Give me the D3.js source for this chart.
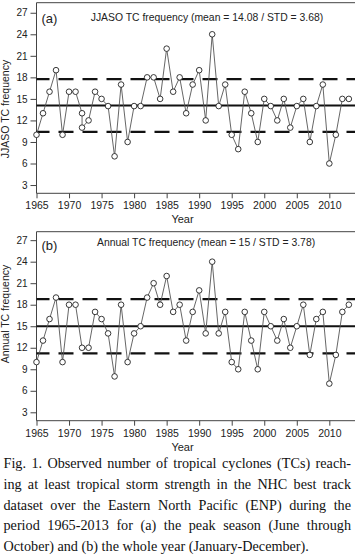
<!DOCTYPE html>
<html><head><meta charset="utf-8">
<script src="https://cdn.jsdelivr.net/npm/d3@7"></script>
<style>
html,body{margin:0;padding:0;background:#fff;}
svg{display:block;}
</style></head><body>
<svg id="chart" width="355" height="558"></svg>
<script>
// ---- data ----
const xTickYears = [1965, 1970, 1975, 1980, 1985, 1990, 1995, 2000, 2005, 2010];
const yTickValues = [3, 6, 9, 12, 15, 18, 21, 24, 27];

// (a) JJASO counts; the source figure draws two markers at 1972 (13 and 11)
const jjasoYears = [1965,1966,1967,1968,1969,1970,1971,1972,1972,1973,1974,1975,1976,1977,1978,1979,
  1980,1981,1982,1983,1984,1985,1986,1987,1988,1989,1990,1991,1992,1993,1994,1995,1996,1997,1998,1999,
  2000,2001,2002,2003,2004,2005,2006,2007,2008,2009,2010,2011,2012,2013];
const jjasoValues = [10,13,16,19,10,16,16,13,11,12,16,15,14,7,17,9,
  14,14,18,18,15,22,16,18,13,17,19,12,24,14,17,10,8,16,13,9,
  15,14,12,15,11,14,15,9,14,17,6,10,15,15];
const jjasoMean = 14.08, jjasoStd = 3.68;

// (b) annual counts
const annualYears = d3.range(1965, 2014);
const annualValues = [10,13,16,19,10,18,18,12,12,17,16,14,8,18,10,
  14,15,19,21,18,22,17,18,13,17,20,14,24,14,17,10,9,17,13,9,
  17,15,13,16,12,15,18,11,16,17,7,11,17,18];
const annualMean = 15, annualStd = 3.78;

const captionLines = [
  "Fig. 1. Observed number of tropical cyclones (TCs) reach-",
  "ing at least tropical storm strength in the NHC best track",
  "dataset over the Eastern North Pacific (ENP) during the",
  "period 1965-2013 for (a) the peak season (June through",
  "October) and (b) the whole year (January-December)."
];

// ---- drawing ----
const svg = d3.select("#chart");
const sans = "'Liberation Sans', Arial, Helvetica, sans-serif";
const serif = "'Liberation Serif', 'Times New Roman', serif";

const x = d3.scaleLinear().domain([1965, 2013.5]).range([36.5, 352.1]);

const panels = [
  { label: "(a)", title: "JJASO TC frequency (mean = 14.08 / STD = 3.68)", yTitle: "JJASO TC frequency",
    xs: jjasoYears, ys: jjasoValues, mean: jjasoMean, std: jjasoStd,
    top: 2.7, bottom: 193.3, yDom: [1.85, 28.4], labelY: 22.5, titleX: 90.7, titleY: 20.8,
    yTitleC: 109, tickLabY: 209, yearY: 223 },
  { label: "(b)", title: "Annual TC frequency (mean = 15 / STD = 3.78)", yTitle: "Annual TC frequency",
    xs: annualYears, ys: annualValues, mean: annualMean, std: annualStd,
    top: 231.7, bottom: 420.7, yDom: [1.83, 28.18], labelY: 250, titleX: 97, titleY: 245.8,
    yTitleC: 314, tickLabY: 437, yearY: 451 }
];

panels.forEach(p => {
  const y = d3.scaleLinear().domain(p.yDom).range([p.bottom, p.top]);
  const g = svg.append("g");
  const x0 = x.range()[0];

  // frame (left + top) 
  g.append("path")
    .attr("d", `M355,${p.top}H${x0}V${p.bottom}`)
    .attr("fill", "none").attr("stroke", "#444").attr("stroke-width", 1);

  // x axis
  const xAxis = d3.axisBottom(x).tickValues(xTickYears).tickFormat(d3.format("d"))
    .tickSize(5).tickSizeOuter(0).tickPadding(3);
  const gx = g.append("g").attr("transform", `translate(0,${p.bottom})`).call(xAxis);
  gx.select(".domain").attr("stroke", "#444").attr("d", `M${x0},0H355`);
  gx.selectAll(".tick line").attr("stroke", "#444");
  gx.selectAll(".tick text").attr("font-family", sans).attr("font-size", 10.5).attr("fill", "#222")
    .attr("y", null).attr("dy", null)
    .attr("transform", `translate(0,${p.tickLabY - p.bottom})`);

  // y axis
  const yAxis = d3.axisLeft(y).tickValues(yTickValues).tickSize(6).tickSizeOuter(0).tickPadding(3);
  const gy = g.append("g").attr("transform", `translate(${x0},0)`).call(yAxis);
  gy.select(".domain").remove();
  gy.selectAll(".tick line").attr("stroke", "#444");
  gy.selectAll(".tick text").attr("font-family", sans).attr("font-size", 10).attr("fill", "#222");

  // axis titles
  g.append("text").attr("x", 182.5).attr("y", p.yearY).attr("text-anchor", "middle")
    .attr("font-family", sans).attr("font-size", 11).attr("fill", "#222").text("Year");
  g.append("text").attr("transform", `translate(9,${p.yTitleC}) rotate(-90)`)
    .attr("text-anchor", "middle").attr("font-family", sans).attr("font-size", 10.5)
    .attr("fill", "#222").text(p.yTitle);

  // mean and +/- std lines
  const lineX = [x0, 355];
  g.append("line").attr("x1", lineX[0]).attr("x2", lineX[1])
    .attr("y1", y(p.mean)).attr("y2", y(p.mean))
    .attr("stroke", "#111").attr("stroke-width", 2.2);
  [p.mean + p.std, p.mean - p.std].forEach(v => {
    g.append("line").attr("x1", lineX[0]).attr("x2", lineX[1])
      .attr("y1", y(v)).attr("y2", y(v))
      .attr("stroke", "#111").attr("stroke-width", 2.2)
      .attr("stroke-dasharray", "15,9").attr("stroke-dashoffset", 2);
  });

  // series
  const pts = p.xs.map((yr, i) => [yr, p.ys[i]]);
  g.append("path").datum(pts)
    .attr("d", d3.line().x(d => x(d[0])).y(d => y(d[1])))
    .attr("fill", "none").attr("stroke", "#555").attr("stroke-width", 0.9);
  g.selectAll("circle.pt").data(pts).join("circle").attr("class", "pt")
    .attr("cx", d => x(d[0])).attr("cy", d => y(d[1])).attr("r", 2.8)
    .attr("fill", "#fff").attr("stroke", "#222").attr("stroke-width", 0.9);

  // panel label and title
  g.append("text").attr("x", 41.5).attr("y", p.labelY)
    .attr("font-family", sans).attr("font-size", 13).attr("fill", "#222").text(p.label);
  g.append("text").attr("x", p.titleX).attr("y", p.titleY)
    .attr("font-family", sans).attr("font-size", 10.4).attr("fill", "#222").text(p.title);
});

// ---- caption (justified) ----
const cap = svg.append("g");
const capSize = 14.2, capLeft = 3.5, capRight = 351, capBase0 = 468.3, capStep = 20.7;
captionLines.forEach((line, li) => {
  const words = line.split(" ");
  const yb = capBase0 + li * capStep;
  const t = cap.append("text").attr("y", yb).attr("font-family", serif)
    .attr("font-size", capSize).attr("fill", "#111");
  const spans = words.map(w => t.append("tspan").attr("x", 0).text(w));
  const widths = spans.map(s => s.node().getComputedTextLength());
  const total = d3.sum(widths);
  const justify = li < captionLines.length - 1;
  const gap = justify ? (capRight - capLeft - total) / (words.length - 1) : capSize * 0.25;
  let cx = capLeft;
  spans.forEach((s, i) => { s.attr("x", cx); cx += widths[i] + gap; });
});
</script>
</body></html>
